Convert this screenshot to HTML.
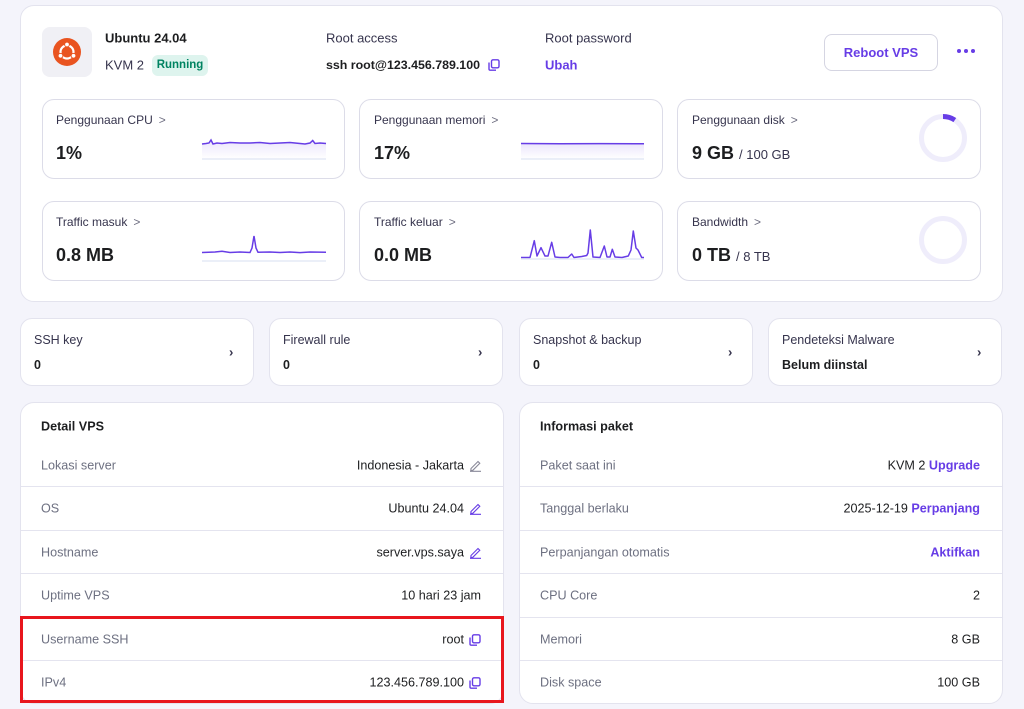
<!DOCTYPE html>
<html><head><meta charset="utf-8">
<style>
*{margin:0;padding:0;box-sizing:border-box}
html,body{width:1024px;height:709px;overflow:hidden;background:#f4f4fb;font-family:"Liberation Sans",Arial,sans-serif;color:#1d1e20}
.a{position:absolute}
.card{position:absolute;background:#fff;border:1px solid #e3e3ee;border-radius:14px}
.mc{position:absolute;background:#fff;border:1px solid #dcdce8;border-radius:12px}
.t{position:absolute;white-space:nowrap;line-height:1;transform:translateY(-50%)}
.lbl{font-size:12px;color:#36344d}
.chev{color:#6d6d80;font-size:12px;margin-left:6px}
.big{font-size:18px;font-weight:bold;color:#1d1e20}
.sm{font-size:13px;font-weight:normal;color:#36344d}
.rl{font-size:12.6px;color:#6d7081}
.rv{font-size:12.6px;color:#1d1e20;text-align:right}
.sep{position:absolute;height:1px;background:#e4e4ef}
.pur{color:#673de6;font-weight:bold}
</style></head><body>

<!-- top card -->
<div class="card" style="left:20px;top:5px;width:983px;height:297px"></div>
<div class="a" style="left:42px;top:27px;width:50px;height:50px;background:#f0f0f5;border-radius:8px"></div>
<svg class="a" style="left:52px;top:37px" width="30" height="30" viewBox="0 0 30 30">
<circle cx="15" cy="15" r="14" fill="#e95420"/>
<circle cx="15" cy="15" r="6.5" fill="none" stroke="#fff" stroke-width="2.2"/>
<circle cx="15" cy="7.5" r="2.4" fill="#fff" stroke="#e95420" stroke-width="1"/>
<circle cx="8.5" cy="18.8" r="2.4" fill="#fff" stroke="#e95420" stroke-width="1"/>
<circle cx="21.5" cy="18.8" r="2.4" fill="#fff" stroke="#e95420" stroke-width="1"/>
</svg>
<div class="t" style="left:105px;top:38px;font-size:13px;font-weight:bold;color:#1d1e20">Ubuntu 24.04</div>
<div class="t" style="left:105px;top:65px;font-size:13px;color:#36344d">KVM 2</div>
<div class="a" style="left:152px;top:55px;width:56px;height:21px;background:#def4ee;border-radius:6px;color:#008361;font-size:11.5px;font-weight:bold;text-align:center;line-height:21px">Running</div>
<div class="t" style="left:326px;top:38px;font-size:13px;color:#36344d">Root access</div>
<div class="t" style="left:326px;top:65px;font-size:12.4px;font-weight:bold;color:#1d1e20">ssh root@123.456.789.100</div>
<svg class="a" style="left:488px;top:59px" width="12" height="12" viewBox="0 0 12 12"><rect x="3.5" y="0.8" width="7.5" height="8" rx="1.5" fill="none" stroke="#673de6" stroke-width="1.4"/><path d="M1 3.5v6.5a1.2 1.2 0 0 0 1.2 1.2H8" fill="none" stroke="#673de6" stroke-width="1.4"/></svg>
<div class="t" style="left:545px;top:38px;font-size:13px;color:#36344d">Root password</div>
<div class="t pur" style="left:545px;top:65px;font-size:13px">Ubah</div>
<div class="a" style="left:824px;top:34px;width:114px;height:37px;border:1px solid #d5d5e2;border-radius:8px;color:#673de6;font-weight:bold;font-size:13px;text-align:center;line-height:35px">Reboot VPS</div>
<div class="a" style="left:957px;top:49px;width:4px;height:4px;border-radius:2px;background:#673de6"></div>
<div class="a" style="left:964px;top:49px;width:4px;height:4px;border-radius:2px;background:#673de6"></div>
<div class="a" style="left:971px;top:49px;width:4px;height:4px;border-radius:2px;background:#673de6"></div>

<!-- metric cards -->
<div class="mc" style="left:42px;top:99px;width:303px;height:80px"></div>
<div class="mc" style="left:359px;top:99px;width:304px;height:80px"></div>
<div class="mc" style="left:677px;top:99px;width:304px;height:80px"></div>
<div class="mc" style="left:42px;top:201px;width:303px;height:80px"></div>
<div class="mc" style="left:359px;top:201px;width:304px;height:80px"></div>
<div class="mc" style="left:677px;top:201px;width:304px;height:80px"></div>

<div class="t lbl" style="left:56px;top:120px">Penggunaan CPU<span class="chev">&gt;</span></div>
<div class="t big" style="left:56px;top:153px">1%</div>
<div class="t lbl" style="left:374px;top:120px">Penggunaan memori<span class="chev">&gt;</span></div>
<div class="t big" style="left:374px;top:153px">17%</div>
<div class="t lbl" style="left:692px;top:120px">Penggunaan disk<span class="chev">&gt;</span></div>
<div class="t big" style="left:692px;top:153px">9 GB <span class="sm">/ 100 GB</span></div>
<div class="t lbl" style="left:56px;top:222px">Traffic masuk<span class="chev">&gt;</span></div>
<div class="t big" style="left:56px;top:255px">0.8 MB</div>
<div class="t lbl" style="left:374px;top:222px">Traffic keluar<span class="chev">&gt;</span></div>
<div class="t big" style="left:374px;top:255px">0.0 MB</div>
<div class="t lbl" style="left:692px;top:222px">Bandwidth<span class="chev">&gt;</span></div>
<div class="t big" style="left:692px;top:255px">0 TB <span class="sm">/ 8 TB</span></div>

<svg class="a" style="left:0;top:0" width="1024" height="709" viewBox="0 0 1024 709">
<defs><linearGradient id="g" x1="0" y1="0" x2="0" y2="1"><stop offset="0" stop-color="#673de6" stop-opacity="0.13"/><stop offset="1" stop-color="#673de6" stop-opacity="0"/></linearGradient></defs>
<path d="M202,144 L206,143.5 L209,143 L211,140 L213,144 L217,143 L222,143.5 L230,142.5 L240,143 L250,143 L260,142.5 L270,143.5 L280,143 L290,142.5 L300,143.5 L305,144 L310,143 L312.7,140.5 L315,143.5 L320,143 L326,143.5 L326,159 L202,159 Z" fill="url(#g)"/>
<polyline points="202,144 206,143.5 209,143 211,140 213,144 217,143 222,143.5 230,142.5 240,143 250,143 260,142.5 270,143.5 280,143 290,142.5 300,143.5 305,144 310,143 312.7,140.5 315,143.5 320,143 326,143.5" fill="none" stroke="#673de6" stroke-width="1.5"/>
<line x1="202" y1="159" x2="326" y2="159" stroke="#dfe5f4" stroke-width="1.2"/>
<path d="M521,143.7 L644,143.7 L644,159 L521,159 Z" fill="url(#g)"/>
<polyline points="521,143.5 560,143.8 600,143.6 644,143.8" fill="none" stroke="#673de6" stroke-width="1.5"/>
<line x1="521" y1="159" x2="644" y2="159" stroke="#dfe5f4" stroke-width="1.2"/>
<polyline points="202,252.5 215,252 222,251.3 230,252.5 240,252 250,252.5 252,248 254,236 256,248 258,252.3 270,252 280,252.5 290,252 300,252.6 310,252 326,252.2" fill="none" stroke="#673de6" stroke-width="1.5"/>
<line x1="202" y1="261" x2="326" y2="261" stroke="#dfe5f4" stroke-width="1.2"/>
<polyline points="521,257.5 530,257.5 534.3,240.7 537,256 541,247.7 545,256 548,256 551.7,242.3 555,257 560,257.5 568,257.5 571.7,254 574,257.5 581.7,256.5 586.7,255.5 588,253 590.3,230 593,257 600,257.5 604.3,246 607,257 610,257 612.3,249.3 615,257 622,257.5 628.3,256 631,250 633.3,231 636,248 638,250 641.7,257.5 644,257.5" fill="none" stroke="#673de6" stroke-width="1.5" stroke-linejoin="round"/>
<line x1="521" y1="259" x2="644" y2="259" stroke="#dfe5f4" stroke-width="1.2"/>
<circle cx="943" cy="138" r="21.5" fill="none" stroke="#efedfb" stroke-width="5"/>
<circle cx="943" cy="138" r="21.5" fill="none" stroke="#673de6" stroke-width="5" stroke-dasharray="12.5 200" transform="rotate(-90 943 138)"/>
<circle cx="943" cy="240" r="21.5" fill="none" stroke="#efedfb" stroke-width="5"/>
</svg>

<!-- small cards -->
<div class="mc" style="left:20px;top:318px;width:234px;height:68px;border-color:#e3e3ee"></div>
<div class="mc" style="left:269px;top:318px;width:234px;height:68px;border-color:#e3e3ee"></div>
<div class="mc" style="left:519px;top:318px;width:234px;height:68px;border-color:#e3e3ee"></div>
<div class="mc" style="left:768px;top:318px;width:234px;height:68px;border-color:#e3e3ee"></div>
<div class="t" style="left:34px;top:340px;font-size:12.5px;color:#36344d">SSH key</div>
<div class="t" style="left:34px;top:365px;font-size:12.5px;font-weight:bold">0</div>
<div class="t" style="left:283px;top:340px;font-size:12.5px;color:#36344d">Firewall rule</div>
<div class="t" style="left:283px;top:365px;font-size:12.5px;font-weight:bold">0</div>
<div class="t" style="left:533px;top:340px;font-size:12.5px;color:#36344d">Snapshot &amp; backup</div>
<div class="t" style="left:533px;top:365px;font-size:12.5px;font-weight:bold">0</div>
<div class="t" style="left:782px;top:340px;font-size:12.5px;color:#36344d">Pendeteksi Malware</div>
<div class="t" style="left:782px;top:365px;font-size:12.5px;font-weight:bold">Belum diinstal</div>
<div class="t" style="left:229px;top:352px;font-size:13px;font-weight:bold;color:#36344d">&#8250;</div>
<div class="t" style="left:478px;top:352px;font-size:13px;font-weight:bold;color:#36344d">&#8250;</div>
<div class="t" style="left:728px;top:352px;font-size:13px;font-weight:bold;color:#36344d">&#8250;</div>
<div class="t" style="left:977px;top:352px;font-size:13px;font-weight:bold;color:#36344d">&#8250;</div>

<!-- detail VPS -->
<div class="card" style="left:20px;top:402px;width:484px;height:302px"></div>
<div class="t" style="left:41px;top:427px;font-size:12.6px;font-weight:bold">Detail VPS</div>
<div class="sep" style="left:21px;top:486px;width:482px"></div>
<div class="sep" style="left:21px;top:530px;width:482px"></div>
<div class="sep" style="left:21px;top:573px;width:482px"></div>
<div class="sep" style="left:21px;top:617px;width:482px"></div>
<div class="sep" style="left:21px;top:660px;width:482px"></div>
<div class="t rl" style="left:41px;top:466px">Lokasi server</div>
<div class="t rl" style="left:41px;top:509px">OS</div>
<div class="t rl" style="left:41px;top:553px">Hostname</div>
<div class="t rl" style="left:41px;top:596px">Uptime VPS</div>
<div class="t rl" style="left:41px;top:640px">Username SSH</div>
<div class="t rl" style="left:41px;top:683px">IPv4</div>
<div class="t rv" style="right:560px;top:466px">Indonesia - Jakarta</div>
<div class="t rv" style="right:560px;top:509px">Ubuntu 24.04</div>
<div class="t rv" style="right:560px;top:553px">server.vps.saya</div>
<div class="t rv" style="right:543px;top:596px">10 hari 23 jam</div>
<div class="t rv" style="right:560px;top:640px">root</div>
<div class="t rv" style="right:560px;top:683px">123.456.789.100</div>
<svg class="a" style="left:469px;top:459px" width="13" height="13" viewBox="0 0 13 13"><path d="M2 9.5 L9 2.5 L10.8 4.3 L3.8 11.3 L1.8 11.5 Z M1 12.3 H12" fill="none" stroke="#8a8a9a" stroke-width="1.1"/></svg>
<svg class="a" style="left:469px;top:502px" width="13" height="13" viewBox="0 0 13 13"><path d="M2 9.5 L9 2.5 L10.8 4.3 L3.8 11.3 L1.8 11.5 Z M1 12.3 H12" fill="none" stroke="#673de6" stroke-width="1.1"/></svg>
<svg class="a" style="left:469px;top:546px" width="13" height="13" viewBox="0 0 13 13"><path d="M2 9.5 L9 2.5 L10.8 4.3 L3.8 11.3 L1.8 11.5 Z M1 12.3 H12" fill="none" stroke="#673de6" stroke-width="1.1"/></svg>
<svg class="a" style="left:469px;top:634px" width="12" height="12" viewBox="0 0 12 12"><rect x="3.5" y="0.8" width="7.5" height="8" rx="1.5" fill="none" stroke="#673de6" stroke-width="1.4"/><path d="M1 3.5v6.5a1.2 1.2 0 0 0 1.2 1.2H8" fill="none" stroke="#673de6" stroke-width="1.4"/></svg>
<svg class="a" style="left:469px;top:677px" width="12" height="12" viewBox="0 0 12 12"><rect x="3.5" y="0.8" width="7.5" height="8" rx="1.5" fill="none" stroke="#673de6" stroke-width="1.4"/><path d="M1 3.5v6.5a1.2 1.2 0 0 0 1.2 1.2H8" fill="none" stroke="#673de6" stroke-width="1.4"/></svg>
<div class="a" style="left:20px;top:616px;width:484px;height:87px;border:3px solid #e8161d"></div>

<!-- informasi paket -->
<div class="card" style="left:519px;top:402px;width:484px;height:302px"></div>
<div class="t" style="left:540px;top:427px;font-size:12.6px;font-weight:bold">Informasi paket</div>
<div class="sep" style="left:520px;top:486px;width:482px"></div>
<div class="sep" style="left:520px;top:530px;width:482px"></div>
<div class="sep" style="left:520px;top:573px;width:482px"></div>
<div class="sep" style="left:520px;top:617px;width:482px"></div>
<div class="sep" style="left:520px;top:660px;width:482px"></div>
<div class="t rl" style="left:540px;top:466px">Paket saat ini</div>
<div class="t rl" style="left:540px;top:509px">Tanggal berlaku</div>
<div class="t rl" style="left:540px;top:553px">Perpanjangan otomatis</div>
<div class="t rl" style="left:540px;top:596px">CPU Core</div>
<div class="t rl" style="left:540px;top:640px">Memori</div>
<div class="t rl" style="left:540px;top:683px">Disk space</div>
<div class="t rv" style="right:44px;top:466px">KVM 2 <span class="pur">Upgrade</span></div>
<div class="t rv" style="right:44px;top:509px">2025-12-19 <span class="pur">Perpanjang</span></div>
<div class="t rv" style="right:44px;top:553px"><span class="pur">Aktifkan</span></div>
<div class="t rv" style="right:44px;top:596px">2</div>
<div class="t rv" style="right:44px;top:640px">8 GB</div>
<div class="t rv" style="right:44px;top:683px">100 GB</div>
</body></html>
